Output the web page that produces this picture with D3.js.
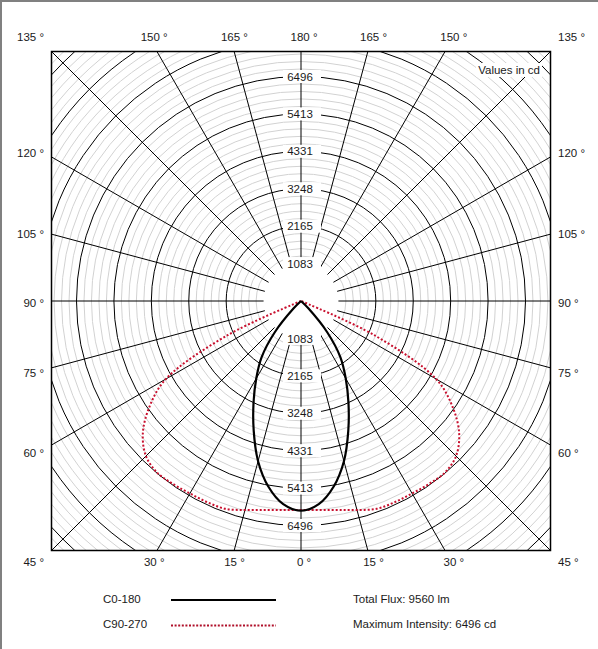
<!DOCTYPE html>
<html>
<head>
<meta charset="utf-8">
<script src="https://cdn.jsdelivr.net/npm/d3@7"></script>
<style>
  body { margin: 0; background: #fff; }
  svg { display: block; font-family: "Liberation Sans", Arial, sans-serif; }
</style>
</head>
<body>
<div id="chart"></div>
<script>
var w = 598;
var h = 649;

// luminous intensity (cd) per gamma angle
var gammas = [0, 5, 10, 15, 20, 25, 30, 35, 40, 45, 50, 55, 60, 65, 70, 75, 80, 85, 90];
var c0   = [6066, 5900, 5450, 4800, 4000, 3250, 2590, 1990, 1180, 300, 0, 0, 0, 0, 0, 0, 0, 0, 0];
var c180 = [6066, 5900, 5450, 4800, 4000, 3250, 2590, 1990, 1180, 300, 0, 0, 0, 0, 0, 0, 0, 0, 0];
var c90  = [6046, 6070, 6139, 6260, 6400, 6422, 6430, 6460, 6480, 6345, 5975, 5361, 4513, 2343, 0, 0, 0, 0, 0];
var c270 = [6046, 6070, 6139, 6260, 6400, 6422, 6430, 6460, 6480, 6345, 5975, 5361, 4513, 2343, 0, 0, 0, 0, 0];

var ringLabels = [1083, 2165, 3248, 4331, 5413, 6496];
var angleTicks = [0, 15, 30, 45, 60, 75, 90, 105, 120, 135, 150, 165, 180];
var maxI = 6496;
var totalFlux = "Total Flux: 9560 lm";
var maxText = "Maximum Intensity: 6496 cd";

var cx = 301, cy = 301, half = 249.5;

var svg = d3.select("#chart").append("svg")
            .attr("width", w)
            .attr("height", h);

// window edge
svg.append("line").attr("x1", 0).attr("y1", 1).attr("x2", w).attr("y2", 1)
   .attr("stroke", "#808080").attr("stroke-width", 2);
svg.append("line").attr("x1", 1).attr("y1", 0).attr("x2", 1).attr("y2", h)
   .attr("stroke", "#808080").attr("stroke-width", 2);

var rScale = d3.scaleLinear().domain([0, maxI]).range([0, 224.5]);
var aScale = d3.scaleLinear().domain([0, 180]).range([0, Math.PI]);

function pt(g, side, v) {
  var a = aScale(g), rr = rScale(v);
  return [cx + side * rr * Math.sin(a), cy + rr * Math.cos(a)];
}

svg.append("clipPath").attr("id", "sq")
   .append("rect")
   .attr("x", cx - half).attr("y", cy - half)
   .attr("width", half * 2).attr("height", half * 2);

var grid = svg.append("g").attr("clip-path", "url(#sq)");

var step = maxI / 6 / 5;
var minor = d3.range(6, 48).filter(function(k) { return k % 5 != 0; });
var major = d3.range(10, 48, 5);
var hole = rScale(maxI / 6);

grid.selectAll("circle.minor")
    .data(minor)
    .enter()
    .append("circle")
    .attr("class", "minor")
    .attr("cx", cx).attr("cy", cy)
    .attr("r", function(k) { return rScale(k * step); })
    .attr("fill", "none")
    .attr("stroke", "#d2d2d2")
    .attr("stroke-width", 1);

grid.selectAll("circle.major")
    .data(major)
    .enter()
    .append("circle")
    .attr("class", "major")
    .attr("cx", cx).attr("cy", cy)
    .attr("r", function(k) { return rScale(k * step); })
    .attr("fill", "none")
    .attr("stroke", "#000")
    .attr("stroke-width", 1);

var spokes = d3.range(0, 360, 15);
grid.selectAll("line.spoke")
    .data(spokes)
    .enter()
    .append("line")
    .attr("class", "spoke")
    .attr("x1", function(d) { return cx + hole * Math.sin(aScale(d)); })
    .attr("y1", function(d) { return cy + hole * Math.cos(aScale(d)); })
    .attr("x2", function(d) { return cx + 520 * Math.sin(aScale(d)); })
    .attr("y2", function(d) { return cy + 520 * Math.cos(aScale(d)); })
    .attr("stroke", "#000")
    .attr("stroke-width", 1);

// value labels on the vertical axis, both halves
var valData = [];
ringLabels.forEach(function(v) {
  valData.push({v: v, y: cy - rScale(v)});
  valData.push({v: v, y: cy + rScale(v)});
});

svg.selectAll("rect.valbg")
   .data(valData)
   .enter()
   .append("rect")
   .attr("class", "valbg")
   .attr("x", cx - 18).attr("y", function(d) { return d.y - 6.5; })
   .attr("width", 38).attr("height", 13)
   .attr("fill", "#fff");

svg.selectAll("text.val")
   .data(valData)
   .enter()
   .append("text")
   .attr("class", "val")
   .attr("x", cx - 1)
   .attr("y", function(d) { return d.y; })
   .attr("dy", "0.36em")
   .attr("text-anchor", "middle")
   .style("font-size", "11.5px")
   .attr("fill", "#1a1a1a")
   .text(function(d) { return d.v; });

// square frame
svg.append("rect")
   .attr("x", cx - half).attr("y", cy - half)
   .attr("width", half * 2).attr("height", half * 2)
   .attr("fill", "none")
   .attr("stroke", "#000")
   .attr("stroke-width", 1.5);

// "Values in cd"
svg.append("rect").attr("x", 476).attr("y", 63).attr("width", 66).attr("height", 14).attr("fill", "#fff");
svg.append("text")
   .attr("x", 540).attr("y", 70).attr("dy", "0.36em")
   .attr("text-anchor", "end")
   .style("font-size", "11.5px")
   .attr("fill", "#1a1a1a")
   .text("Values in cd");

// angle labels around the square
var angData = [];
angleTicks.forEach(function(t) {
  var sides = (t == 0 || t == 180) ? [1] : [-1, 1];
  sides.forEach(function(s) {
    var a = aScale(t);
    var dx = Math.sin(a), dy = Math.cos(a);
    var k = half / Math.max(Math.abs(dx), Math.abs(dy));
    var sx = cx + s * dx * k, sy = cy + dy * k;
    var d = {t: t};
    if (Math.abs(Math.abs(dx) - Math.abs(dy)) < 1e-6) {
      d.x = s < 0 ? 44 : 558; d.anchor = s < 0 ? "end" : "start";
      d.y = dy > 0 ? 562 : 37;
    } else if (Math.abs(dy) > Math.abs(dx)) {
      d.x = cx + (sx - cx) * 1.04 + 3; d.anchor = "middle";
      d.y = dy > 0 ? 562 : 37;
    } else {
      d.x = s < 0 ? 44 : 558; d.anchor = s < 0 ? "end" : "start";
      d.y = cy + (sy - cy) * 1.04 + 2;
    }
    angData.push(d);
  });
});

svg.selectAll("text.ang")
   .data(angData)
   .enter()
   .append("text")
   .attr("class", "ang")
   .attr("x", function(d) { return d.x; })
   .attr("y", function(d) { return d.y; })
   .attr("dy", "0.36em")
   .attr("text-anchor", function(d) { return d.anchor; })
   .style("font-size", "11.5px")
   .attr("fill", "#1a1a1a")
   .text(function(d) { return d.t + " \u00b0"; });

// curves
function plane(left, right) {
  var pts = [];
  for (var i = gammas.length - 1; i >= 0; i--) pts.push(pt(gammas[i], -1, left[i]));
  for (var j = 1; j < gammas.length; j++) pts.push(pt(gammas[j], 1, right[j]));
  return pts.filter(function(p, i) {
    return i == 0 || Math.abs(p[0] - pts[i - 1][0]) > 0.01 || Math.abs(p[1] - pts[i - 1][1]) > 0.01;
  });
}

var line = d3.line().curve(d3.curveCatmullRom.alpha(0.5));

svg.append("path")
   .attr("d", line(plane(c270, c90)))
   .attr("fill", "none")
   .attr("stroke", "#c8102e")
   .attr("stroke-width", 2)
   .attr("stroke-dasharray", "2,2");

svg.append("path")
   .attr("d", line(plane(c180, c0)))
   .attr("fill", "none")
   .attr("stroke", "#000")
   .attr("stroke-width", 2.2);

// legend
var legend = svg.append("g");
legend.append("text").attr("x", 103).attr("y", 599).attr("dy", "0.36em")
      .style("font-size", "11.5px").attr("fill", "#1a1a1a").text("C0-180");
legend.append("text").attr("x", 103).attr("y", 624).attr("dy", "0.36em")
      .style("font-size", "11.5px").attr("fill", "#1a1a1a").text("C90-270");
legend.append("line").attr("x1", 171).attr("x2", 276).attr("y1", 600).attr("y2", 600)
      .attr("stroke", "#000").attr("stroke-width", 2.2);
legend.append("line").attr("x1", 171).attr("x2", 276).attr("y1", 625.5).attr("y2", 625.5)
      .attr("stroke", "#b0102a").attr("stroke-width", 2).attr("stroke-dasharray", "2,1.6");
legend.append("text").attr("x", 353).attr("y", 599).attr("dy", "0.36em")
      .style("font-size", "11.5px").attr("fill", "#1a1a1a").text(totalFlux);
legend.append("text").attr("x", 353).attr("y", 624).attr("dy", "0.36em")
      .style("font-size", "11.5px").attr("fill", "#1a1a1a").text(maxText);
</script>
</body>
</html>
